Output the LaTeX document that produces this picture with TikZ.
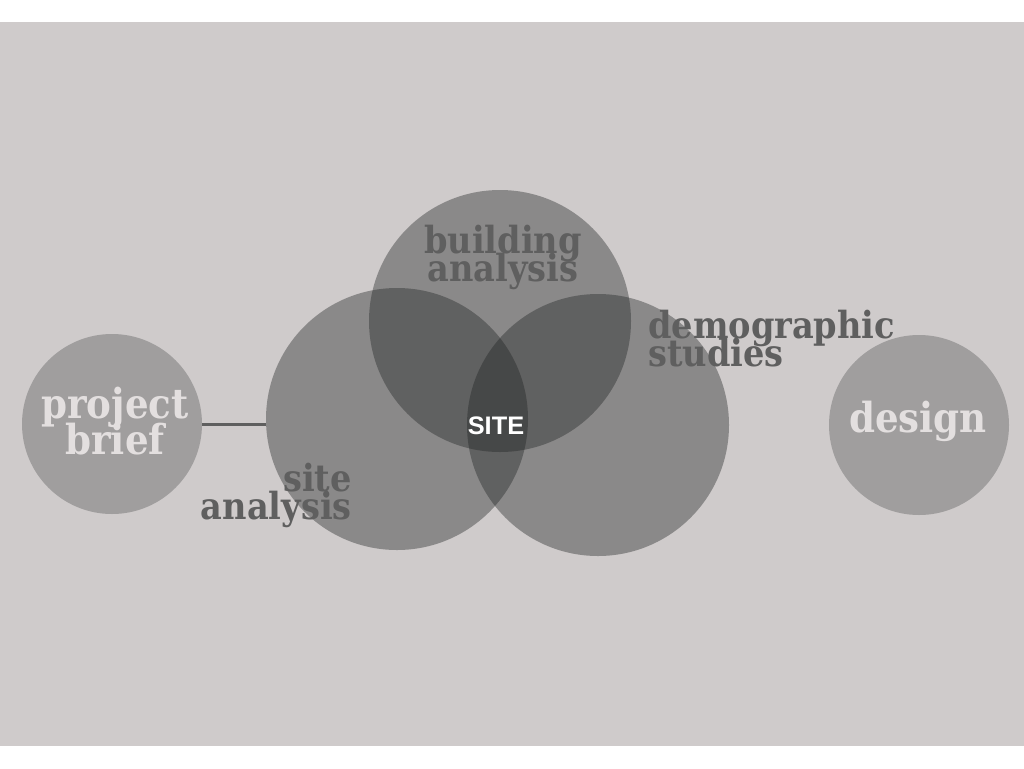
\documentclass[tikz,border=0pt]{standalone}
\usepackage{fontspec}
\newfontfamily\slabfont{DejaVu Serif Condensed}
\newfontfamily\sitefont{Liberation Sans}
\definecolor{paper}{HTML}{CFCBCB}
\definecolor{discgray}{HTML}{A09E9E}
\definecolor{venngray}{HTML}{1F2222}
\definecolor{inkdark}{HTML}{5F5F5F}
\definecolor{inklight}{HTML}{E3DFDF}
\setlength{\lineskiplimit}{-50pt}

\begin{document}
\begin{tikzpicture}[x=0.75pt, y=-0.75pt,
    disc/.style={circle, fill=discgray, minimum size=135pt, inner sep=0},
    venn/.style={circle, fill=venngray, fill opacity=0.39, minimum size=196.5pt, inner sep=0},
    darklabel/.style={text=inkdark, inner sep=0,
      font=\slabfont\bfseries\fontsize{28pt}{21pt}\selectfont},
    lightlabel/.style={text=inklight, inner sep=0,
      font=\slabfont\bfseries\fontsize{31pt}{27pt}\selectfont}]
    \useasboundingbox (0,0) rectangle (1024,768);
    \fill[white] (0,0) rectangle (1024,768);
    \fill[paper] (0,22) rectangle (1024,746);

    % outer steps
    \node[disc] (brief) at (112,424) {};
    \node[disc] (design) at (919,425) {};

    % the three overlapping studies
    \node[venn] (siteA) at (397,419) {};
    \node[venn] (building) at (500,321) {};
    \node[venn] (demog) at (598,425) {};

    \draw[inkdark, line width=2.25pt] (brief) -- (brief -| siteA.west);

    % labels
    \node[lightlabel, align=center, anchor=north] (briefText) at (115,387) {project\\brief};
    \node[lightlabel, anchor=base] (designText) at (918,432) {design};
    \node[darklabel, align=center, anchor=north] (buildingText) at (503,225) {building\\analysis};
    \node[darklabel, align=left, anchor=north west] (demogText) at (648,310) {demographic\\studies};
    \node[darklabel, align=right, anchor=north east] (siteText) at (352,463) {site\\analysis};
    \node[text=white, font=\sitefont\bfseries\fontsize{19pt}{19pt}\selectfont, inner sep=0] (site) at (496,426) {SITE};
\end{tikzpicture}
\end{document}
